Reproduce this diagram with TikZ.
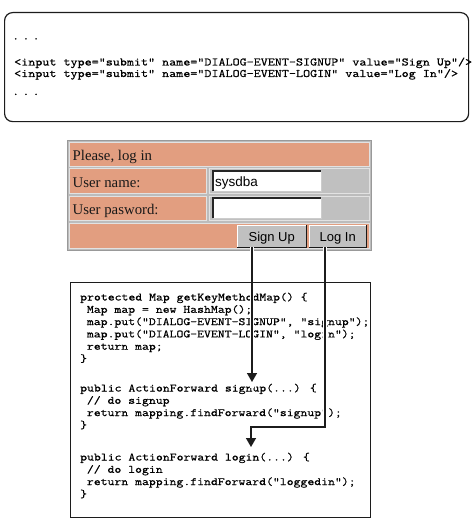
\documentclass[tikz,border=0pt]{standalone}
\usepackage{fontspec}
\usetikzlibrary{arrows.meta}
\newfontfamily\codefont[FakeStretch=1.2,FakeBold=0.7]{Latin Modern Mono}
\newfontfamily\formserif{Liberation Serif}
\newfontfamily\formsans{Liberation Sans}
\definecolor{formsalmon}{RGB}{226,158,128}
\definecolor{formgray}{RGB}{192,192,192}
\definecolor{tablebg}{RGB}{188,188,188}
\definecolor{celledge}{RGB}{226,226,226}
\definecolor{inkline}{RGB}{28,28,28}
\tikzset{
  panel/.style={draw=inkline, line width=1.2pt, fill=white, anchor=north west, inner sep=0pt},
  codeline/.style={anchor=base west, inner sep=0pt, text=black, font=\codefont\fontsize{11.4pt}{12pt}\selectfont},
  javaline/.style={anchor=base west, inner sep=0pt, text=black, font=\codefont\fontsize{11.15pt}{12pt}\selectfont},
  cell/.style={anchor=north west, inner sep=0pt, draw=celledge, line width=0.8pt},
  salmoncell/.style={cell, fill=formsalmon},
  graycell/.style={cell, fill=formgray},
  inputbox/.style={anchor=north west, inner sep=0pt, fill=white, minimum width=108pt, minimum height=20pt},
  formlabel/.style={anchor=base west, inner sep=0pt, text=black!90, font=\formserif\fontsize{14.8pt}{16pt}\selectfont},
  button/.style={anchor=north west, inner sep=0pt, fill=formgray, minimum height=22pt, text height=11pt, text depth=0pt, font=\formsans\fontsize{13pt}{14pt}\selectfont},
  arrowline/.style={draw=inkline, line width=1.4pt, -{Triangle[width=10pt,length=9pt]}},
  halo/.style={draw=white, line width=4pt}
}
\begin{document}
\begin{tikzpicture}[x=1pt,y=-1pt]
\useasboundingbox (0,0) rectangle (474,527);
\fill[white] (0,0) rectangle (474,527);

% ---------- top HTML box ----------
\node[panel, rounded corners=8pt, minimum width=464pt, minimum height=109pt] (htmlbox) at (4,12) {};
\node[codeline] (hdots1) at (12,39.5) {.\kern3.15pt.\kern3.15pt.};
\node[codeline] (hline1) at (14,65.5) {<input type="submit" name="DIALOG-EVENT-SIGNUP" value="Sign Up"/>};
\node[codeline] (hline2) at (14,77) {<input type="submit" name="DIALOG-EVENT-LOGIN" value="Log In"/>};
\node[codeline] (hdots2) at (12,95) {.\kern3.15pt.\kern3.15pt.};

% ---------- form ----------
\node[anchor=north west, inner sep=0pt, fill=tablebg, draw=black!40, line width=0.6pt, minimum width=304pt, minimum height=110pt] (form) at (67,140) {};
\node[salmoncell, minimum width=300pt, minimum height=24pt] (row1) at (69,142) {};
\node[salmoncell, minimum width=137pt, minimum height=25pt] (row2l) at (69,168) {};
\node[graycell, minimum width=160pt, minimum height=25pt] (row2r) at (209,168) {};
\node[salmoncell, minimum width=137pt, minimum height=24pt] (row3l) at (69,196) {};
\node[graycell, minimum width=160pt, minimum height=24pt] (row3r) at (209,196) {};
\node[salmoncell, minimum width=300pt, minimum height=25pt] (row4) at (69,223) {};

\node[inputbox] (in1) at (213,171) {};
\draw[black!20, line width=1pt] (in1.south west) -- (in1.south east) -- (in1.north east);
\draw[black!85, line width=1.6pt] (in1.south west) -- (in1.north west) -- (in1.north east);
\node[inputbox] (in2) at (213,198) {};
\draw[black!20, line width=1pt] (in2.south west) -- (in2.south east) -- (in2.north east);
\draw[black!85, line width=1.6pt] (in2.south west) -- (in2.north west) -- (in2.north east);

\node[formlabel] (please) at (72.5,160) {Please, log in};
\node[formlabel] (uname) at (72.5,187) {User name:};
\node[formlabel] (upass) at (72.5,214) {User pasword:};
\node[anchor=base west, inner sep=0pt, font=\formsans\fontsize{13.5pt}{15pt}\selectfont] (sysdba) at (215,186.5) {sysdba};

\node[button, minimum width=69pt] (signup) at (237,225) {Sign Up};
\draw[white, line width=1pt] (signup.south west) -- (signup.north west) -- (signup.north east);
\draw[black!90, line width=1.4pt] (signup.south west) -- (signup.south east) -- (signup.north east);
\node[button, minimum width=57pt] (login) at (309,225) {Log In};
\draw[white, line width=1pt] (login.south west) -- (login.north west) -- (login.north east);
\draw[black!90, line width=1.4pt] (login.south west) -- (login.south east) -- (login.north east);

% ---------- code box ----------
\node[anchor=north west, inner sep=0pt, fill=white, minimum width=300pt, minimum height=235pt] (codebg) at (70,282) {};
\node[javaline] (c1) at (80,300.5) {protected Map getKeyMethodMap() \{};
\node[javaline] (c2) at (86.7,312.8) {Map map = new HashMap();};
\node[javaline] (c3) at (86.7,325.1) {map.put("DIALOG-EVENT-SIGNUP", "signup");};
\node[javaline] (c4) at (86.7,337.4) {map.put("DIALOG-EVENT-LOGIN", "login");};
\node[javaline] (c5) at (86.7,349.7) {return map;};
\node[javaline] (c6) at (80,362) {\}};
\node[javaline] (c7) at (80,391.5) {public ActionForward signup(...) \{};
\node[javaline] (c8) at (86.7,403.8) {// do signup};
\node[javaline] (c9) at (86.7,416.1) {return mapping.findForward("signup");};
\node[javaline] (c10) at (80,428.4) {\}};
\node[javaline] (c11) at (80,460.5) {public ActionForward login(...) \{};
\node[javaline] (c12) at (86.7,472.8) {// do login};
\node[javaline] (c13) at (86.7,485.1) {return mapping.findForward("loggedin");};
\node[javaline] (c14) at (80,497.4) {\}};

% ---------- connectors ----------
\coordinate (tipA) at (252,382);
\coordinate (bendA) at (325,427);
\coordinate (bendB) at (251,427);
\coordinate (tipB) at (251,447);
\draw[halo] (signup.south -| tipA) -- ([yshift=-6pt]tipA);
\draw[halo] (login.south -| bendA) -- (bendA) -- (bendB) -- ([yshift=-6pt]tipB);
\node[draw=inkline, line width=1.3pt, anchor=north west, inner sep=0pt, minimum width=300pt, minimum height=235pt] (codebox) at (70,282) {};
\draw[arrowline] (signup.south -| tipA) -- (tipA);
\draw[arrowline] (login.south -| bendA) -- (bendA) -- (bendB) -- (tipB);
\end{tikzpicture}
\end{document}
